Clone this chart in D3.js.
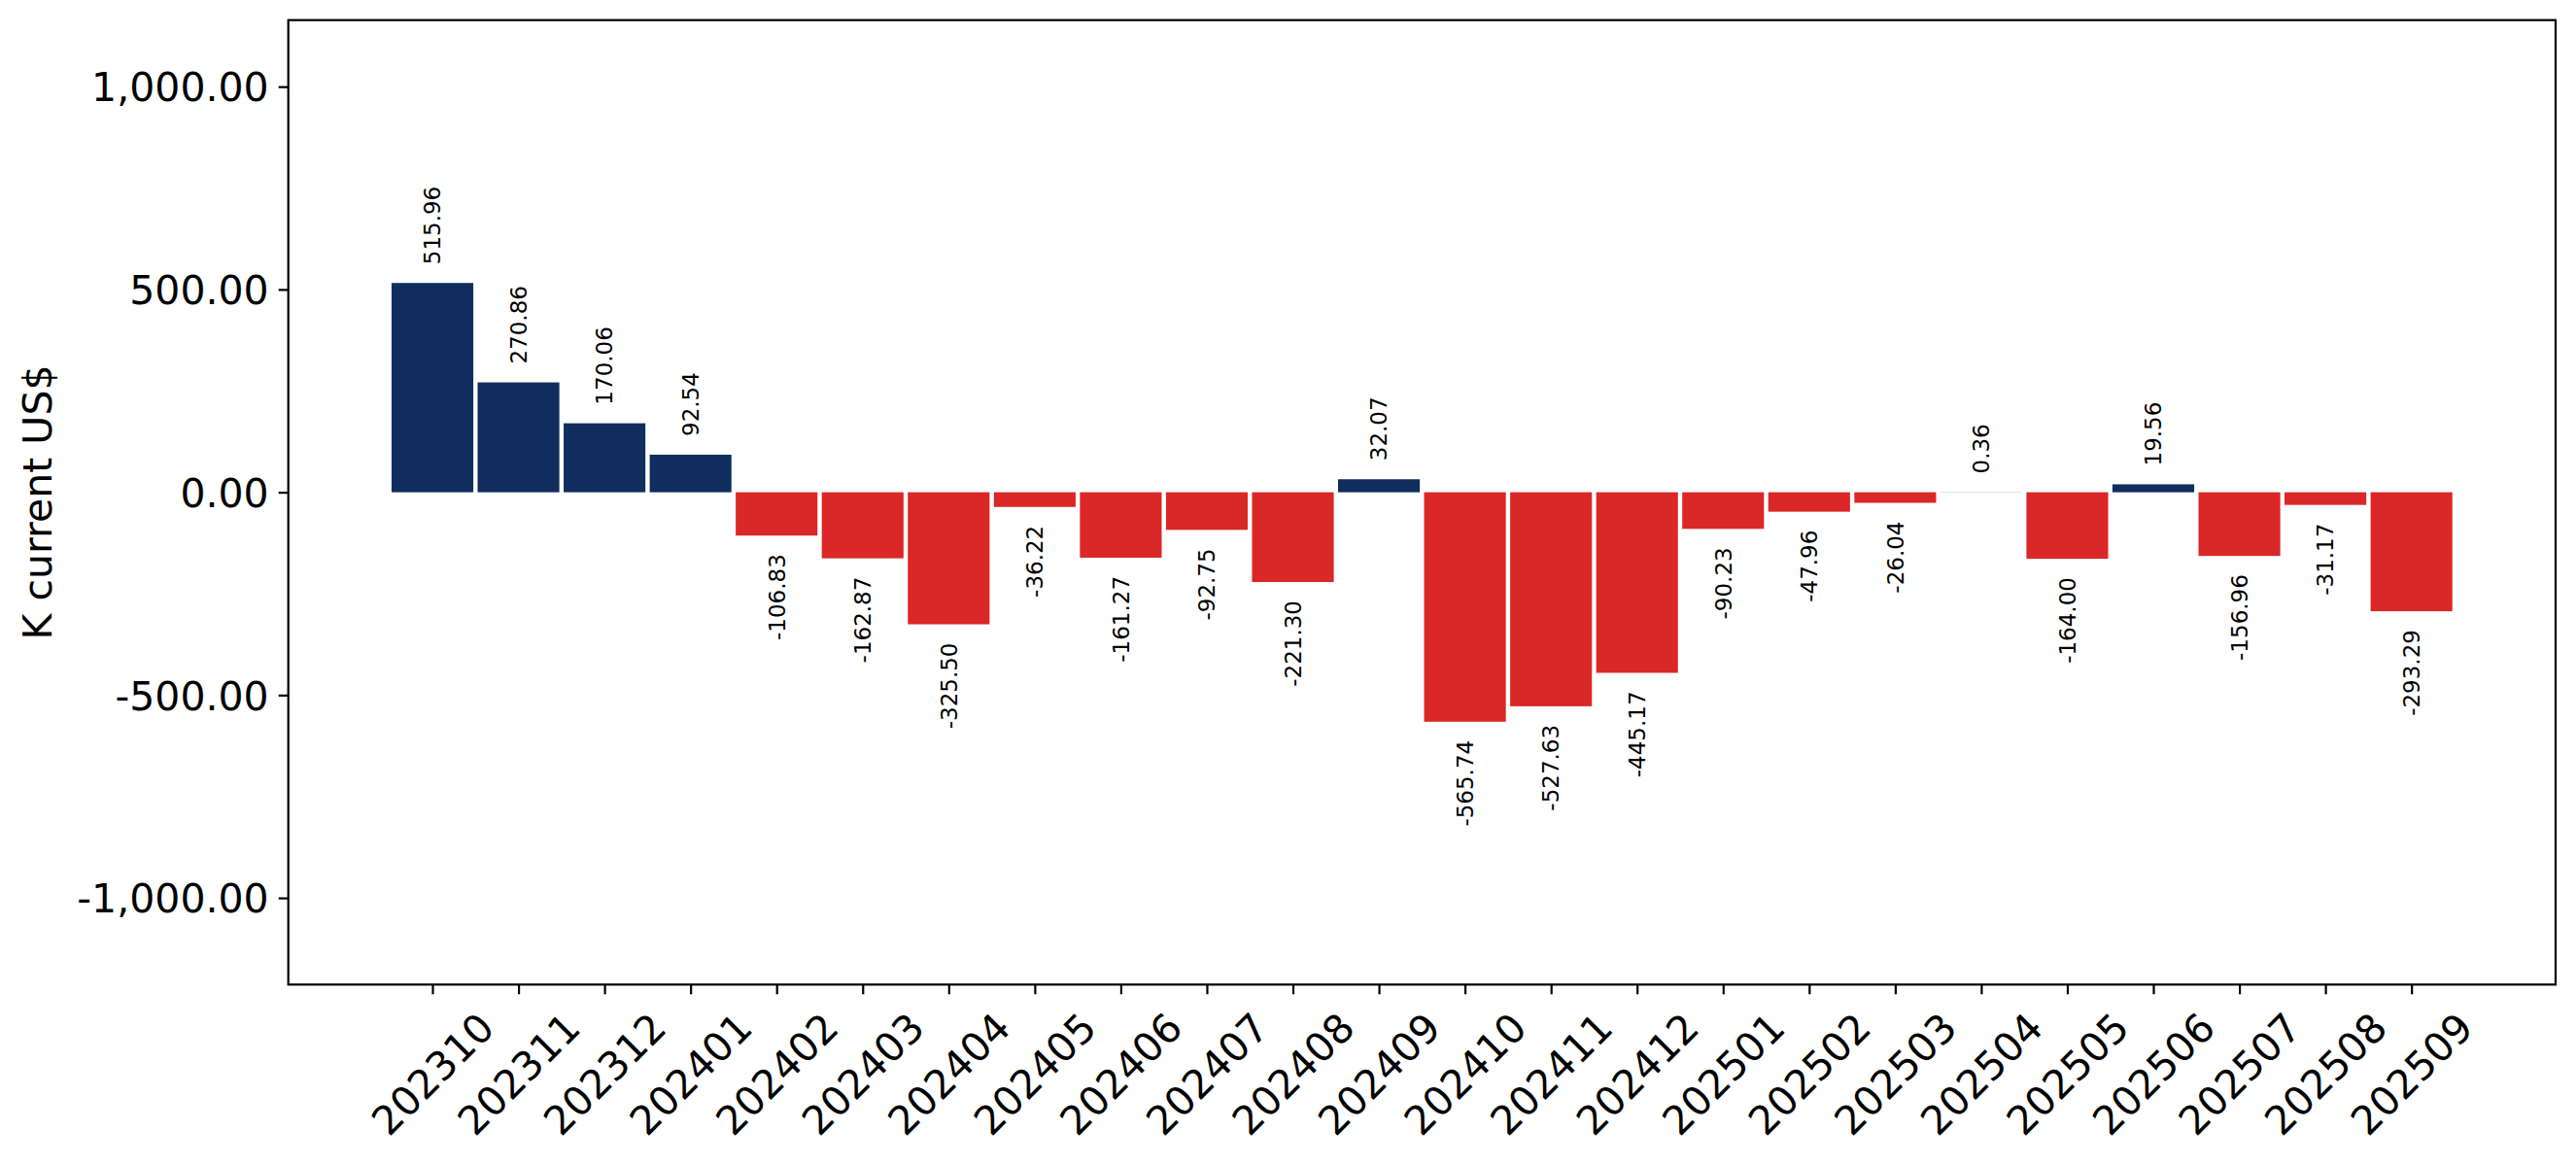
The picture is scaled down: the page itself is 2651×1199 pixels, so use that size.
<!DOCTYPE html>
<html lang="en">
<head>
<meta charset="utf-8">
<title>monthly balance</title>
<script src="https://d3js.org/d3.v7.min.js"></script>
<style>
  body { margin: 0; background: #fff; }
  text { font-family: "DejaVu Sans", sans-serif; }
</style>
</head>
<body>
<script type="text/javascript">
// data
var months = ["202310","202311","202312","202401","202402","202403","202404","202405",
              "202406","202407","202408","202409","202410","202411","202412","202501",
              "202502","202503","202504","202505","202506","202507","202508","202509"];
var values = [515.96, 270.86, 170.06, 92.54, -106.83, -162.87, -325.50, -36.22,
              -161.27, -92.75, -221.30, 32.07, -565.74, -527.63, -445.17, -90.23,
              -47.96, -26.04, 0.36, -164.00, 19.56, -156.96, -31.17, -293.29];
var yTicks = [-1000, -500, 0, 500, 1000];
var yLabel = "K current US$";

var w = 2651, h = 1199;
// plot frame (window.top is read-only, so no bare "top")
var padL = 296.7, padR = 2630, padT = 20.7, padB = 1013.3;
var posColor = "#102d5e", negColor = "#da2727";

var loc = d3.formatLocale({decimal: ".", thousands: ",", grouping: [3], currency: ["$", ""], minus: "-"});
var tickFmt = loc.format(",.2f");
var valFmt = loc.format(".2f");

var svg = d3.select("body").append("svg")
            .attr("width", w)
            .attr("height", h);

//scales: categories sit on integer positions like matplotlib
var xScale = d3.scaleLinear()
               .domain([-1.675, months.length - 1 + 1.675])
               .range([padL, padR]);
var yScale = d3.scaleLinear()
               .domain([-1213.7, 1164])
               .range([padB, padT]);
var barW = 0.95;

// bars
svg.selectAll("rect.bar")
   .data(values)
   .enter()
   .append("rect")
   .attr("class", "bar")
   .attr("x", function(d, i){ return xScale(i - barW / 2); })
   .attr("width", function(){ return xScale(barW) - xScale(0); })
   .attr("y", function(d){ return yScale(Math.max(d, 0)); })
   .attr("height", function(d){ return Math.abs(yScale(d) - yScale(0)); })
   .attr("fill", function(d){ return d >= 0 ? posColor : negColor; });

// value labels, vertical
svg.selectAll("text.val")
   .data(values)
   .enter()
   .append("text")
   .attr("class", "val")
   .attr("transform", function(d, i){
     var y = d >= 0 ? yScale(d) - 19 : yScale(d) + 19;
     return "translate(" + xScale(i) + "," + y + ") rotate(-90)";
   })
   .attr("text-anchor", function(d){ return d >= 0 ? "start" : "end"; })
   .attr("dy", "0.36em")
   .attr("font-size", "23px")
   .attr("fill", "#000")
   .text(function(d){ return valFmt(d); });

// y axis
var yAxis = d3.axisLeft(yScale)
              .tickValues(yTicks)
              .tickFormat(tickFmt)
              .tickSize(10)
              .tickPadding(10);
var gy = svg.append("g")
            .attr("transform", "translate(" + padL + ",0)")
            .call(yAxis);
gy.select(".domain").remove();
gy.selectAll(".tick line").attr("stroke", "#000").attr("stroke-width", 2.2);
gy.selectAll(".tick text")
  .attr("font-size", "41px")
  .attr("font-family", "DejaVu Sans, sans-serif")
  .attr("fill", "#000")
  .attr("dy", "0.36em");

// x axis
var xAxis = d3.axisBottom(xScale)
              .tickValues(d3.range(months.length))
              .tickFormat(function(i){ return months[i]; })
              .tickSize(10);
var gx = svg.append("g")
            .attr("transform", "translate(0," + padB + ")")
            .call(xAxis);
gx.select(".domain").remove();
gx.selectAll(".tick line").attr("stroke", "#000").attr("stroke-width", 2.2);
var fs = 41;
gx.selectAll(".tick text")
  .attr("font-size", fs + "px")
  .attr("font-family", "DejaVu Sans, sans-serif")
  .attr("fill", "#000")
  .attr("text-anchor", "middle")
  .attr("y", null)
  .attr("dy", "0.346em")
  .attr("transform", function(){
    // rotated box centred under the tick, its top below the pad
    var tw = this.getComputedTextLength();
    var bh = (tw + fs * 1.164) * Math.SQRT1_2;
    var cy = 10 + 10 + bh / 2;
    return "translate(0," + cy + ") rotate(-45)";
  });

// frame
svg.append("rect")
   .attr("x", padL)
   .attr("y", padT)
   .attr("width", padR - padL)
   .attr("height", padB - padT)
   .attr("fill", "none")
   .attr("stroke", "#000")
   .attr("stroke-width", 2.2);

// y label
svg.append("text")
   .attr("transform", "translate(53," + (padT + padB) / 2 + ") rotate(-90)")
   .attr("text-anchor", "middle")
   .attr("font-size", "41px")
   .attr("fill", "#000")
   .text(yLabel);
</script>
</body>
</html>
